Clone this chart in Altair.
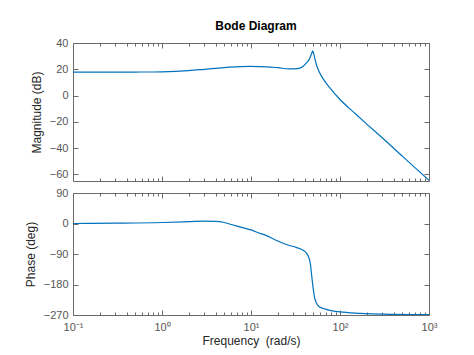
import math
import altair as alt
import pandas as pd

# ---- data ----
mag_freq = [0.1, 0.2, 0.5, 1.0, 2.0, 3.0, 5.0, 7.5, 10, 15, 20, 27, 33, 38, 42, 45, 48,
            49.5, 51, 54, 58, 65, 77, 100, 150, 200, 300, 500, 700, 1000]
mag_db = [17.8, 17.8, 17.9, 18.1, 19.0, 20.0, 21.3, 22.0, 22.2, 21.9, 21.2, 20.3, 20.5,
          22.0, 24.8, 27.5, 32.0, 34.0, 31.0, 24.0, 18.5, 12.5, 5.8, -3.0, -14.0, -21.7,
          -32.3, -46.0, -55.0, -64.5]

ph_freq = [0.1, 0.3, 1, 2, 3, 4, 5, 6, 7.5, 10, 12.6, 14, 19.4, 25, 32.6, 38, 42.2, 45,
           46.5, 48, 50, 52, 54.7, 58, 65, 80, 100, 167, 300, 1000]
ph_deg = [0, 1, 3, 5.5, 7, 6.5, 3, -3, -10, -19, -29, -33, -50, -62, -71, -78, -88, -103,
          -120, -152, -192, -220, -236, -245, -251, -257, -261, -265, -267.5, -269]

x_major = [0.1, 1, 10, 100, 1000]
x_major_labels = ["10\u207b\u00b9", "10\u2070", "10\u00b9", "10\u00b2", "10\u00b3"]
x_minor = [m * d for d in [0.1, 1, 10, 100] for m in range(2, 10)]
mag_ticks = [-60, -40, -20, 0, 20, 40]
ph_ticks = [-270, -180, -90, 0, 90]

FONT = "Liberation Sans"
FRAME = "#6b6b6b"
LBL = "#555555"
TTL = "#262626"
LINE = "#0072BD"

label_expr = ""
for v, l in zip(x_major, x_major_labels):
    label_expr += f"abs(log(datum.value)/LN10 - ({math.log10(v)})) < 0.01 ? '{l}' : "
label_expr += "''"

mag_df = pd.DataFrame({"f": mag_freq, "v": mag_db})
ph_df = pd.DataFrame({"f": ph_freq, "v": ph_deg})

xscale = alt.Scale(type="log", domain=[0.1, 1000], nice=False)


def xaxis(orient, values, size, labels=False, title=None):
    kw = dict(orient=orient, values=values, tickSize=size, offset=-size, domain=False,
              grid=False, labels=labels, tickColor=FRAME, tickWidth=1)
    if labels:
        kw.update(labelExpr=label_expr, labelPadding=6, labelFontSize=11,
                  labelColor=LBL, labelFont=FONT, labelFlush=False)
    if title:
        kw.update(title=title, titleFont=FONT, titleFontSize=12, titleColor=TTL,
                  titleFontWeight="normal", titlePadding=3)
    else:
        kw.update(title=None)
    return alt.Axis(**kw)


def yaxis(orient, values, labels=False, title=None):
    kw = dict(orient=orient, values=values, tickSize=5, offset=-5, domain=False,
              grid=False, labels=labels, tickColor=FRAME, tickWidth=1)
    if labels:
        kw.update(labelPadding=5, labelFontSize=11, labelColor=LBL, labelFont=FONT)
    if title:
        kw.update(title=title, titleFont=FONT, titleFontSize=12, titleColor=TTL,
                  titleFontWeight="normal", titlePadding=6)
    else:
        kw.update(title=None)
    return alt.Axis(**kw)


def panel(df, ydomain, yticks, ytitle, height, bottom_labels, xtitle=None):
    yscale = alt.Scale(domain=ydomain, nice=False, zero=False)
    base = alt.Chart(df)
    line = base.mark_line(color=LINE, strokeWidth=1.2, clip=True, interpolate="monotone").encode(
        x=alt.X("f:Q", scale=xscale, axis=xaxis("bottom", x_major, 5, bottom_labels, xtitle)),
        y=alt.Y("v:Q", scale=yscale, axis=yaxis("left", yticks, True, ytitle)),
    )
    l2 = base.mark_line(opacity=0).encode(
        x=alt.X("f:Q", scale=xscale, axis=xaxis("bottom", x_minor, 3)),
        y=alt.Y("v:Q", scale=yscale, axis=yaxis("right", yticks)),
    )
    l3 = base.mark_line(opacity=0).encode(
        x=alt.X("f:Q", scale=xscale, axis=xaxis("top", x_major, 5)),
        y=alt.Y("v:Q", scale=yscale, axis=None),
    )
    l4 = base.mark_line(opacity=0).encode(
        x=alt.X("f:Q", scale=xscale, axis=xaxis("top", x_minor, 3)),
        y=alt.Y("v:Q", scale=yscale, axis=None),
    )
    return (
        alt.layer(line, l2, l3, l4)
        .resolve_axis(x="independent", y="independent")
        .properties(width=356, height=height)
    )


top = panel(mag_df, [-65, 40], mag_ticks, "Magnitude (dB)", 138, False).properties(
    title=alt.TitleParams("Bode Diagram", font=FONT, fontSize=12, fontWeight="bold",
                          color="#000000", anchor="middle", frame="group", dx=5, offset=4)
)
bottom = panel(ph_df, [-270, 90], ph_ticks, "Phase (deg)", 122, True,
               "Frequency \u00a0(rad/s)")

chart = (
    alt.vconcat(top, bottom, spacing=4)
    .configure_view(stroke=FRAME, strokeWidth=1)
    .properties(padding={"left": 15, "top": 11, "right": 5, "bottom": 5}, background="white")
)

chart.save("out.html", embed_options={"renderer": "svg", "actions": False})
